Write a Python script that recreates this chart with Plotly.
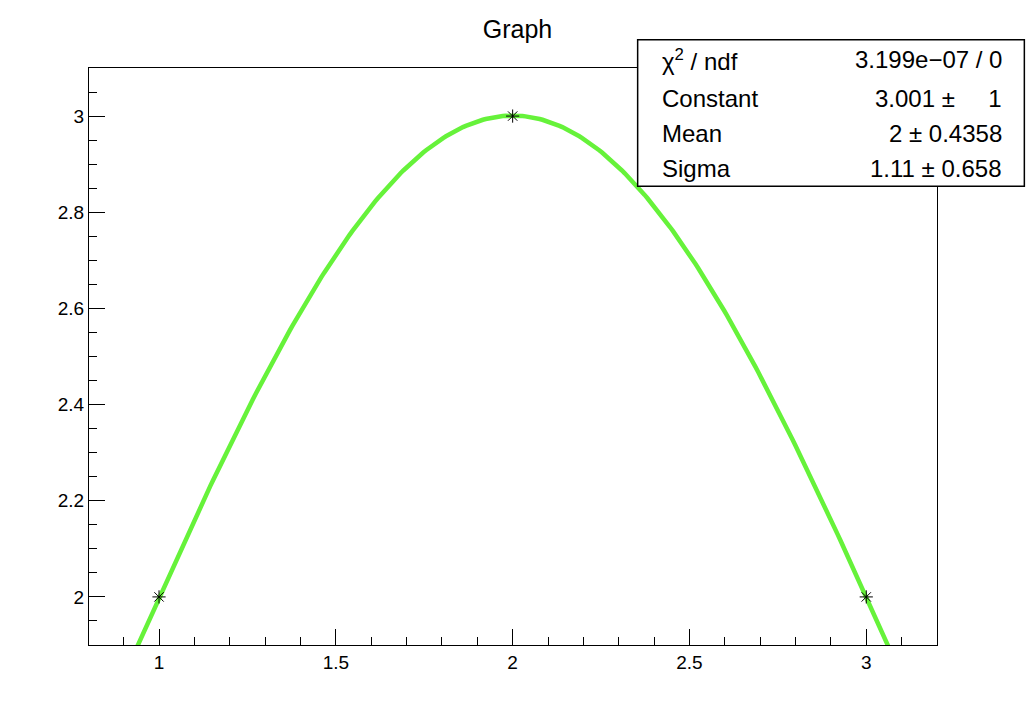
import numpy as np
import plotly.graph_objects as go

px_ = [1, 2, 3]
py_ = [2, 3, 2]
fit_const, fit_mean, fit_sigma = 3.001, 2.0, 1.11
stat_labels = ["χ<sup>2</sup> / ndf", "Constant", "Mean", "Sigma"]
stat_values = ["3.199e−07 / 0", "3.001 ±     1", "2 ± 0.4358", "1.11 ± 0.658"]

xf = np.linspace(0.8, 3.2, 300)
yf = fit_const * np.exp(-0.5 * ((xf - fit_mean) / fit_sigma) ** 2)

fig = go.Figure()
fig.add_trace(go.Scatter(x=xf, y=yf, mode="lines", line=dict(color="#66f23a", width=4.5), hoverinfo="skip"))
fig.add_trace(go.Scatter(x=px_, y=py_, mode="markers",
                         marker=dict(symbol="asterisk-open", size=11, color="black", line=dict(width=1, color="black"))))

font = dict(family="Liberation Sans, Arial", color="black")
axcommon = dict(showgrid=False, zeroline=False, showline=True, linecolor="black", mirror=True,
                ticks="inside", tickcolor="black", ticklen=16, tickfont=dict(size=19, **font))
fig.update_layout(
    width=1019, height=687, plot_bgcolor="white", paper_bgcolor="white", showlegend=False,
    margin=dict(l=81, r=90, t=60, b=50),
    title=dict(text="Graph", x=0.5, xanchor="center", y=0.982, font=dict(size=25, **font)),
    xaxis=dict(range=[0.802, 3.2], tickvals=[1, 1.5, 2, 2.5, 3], ticktext=["1", "1.5", "2", "2.5", "3"],
               minor=dict(dtick=0.1, ticks="inside", ticklen=8, tickcolor="black"), **axcommon),
    yaxis=dict(range=[1.9, 3.1], tickvals=[2, 2.2, 2.4, 2.6, 2.8, 3], ticktext=["2", "2.2", "2.4", "2.6", "2.8", "3"],
               minor=dict(dtick=0.05, ticks="inside", ticklen=8, tickcolor="black"), **axcommon),
)
fig.add_shape(type="rect", xref="paper", yref="paper", x0=0.647, x1=1.103, y0=0.795, y1=1.049,
              line=dict(color="black", width=1.5), fillcolor="white", layer="above")
rows_y = [645 - 60, 645 - 98, 645 - 133, 645 - 168]
for lab, val, ypx in zip(stat_labels, stat_values, rows_y):
    yp = ypx / 577
    fig.add_annotation(xref="paper", yref="paper", x=(660 - 89) / 848, y=yp, text=lab, showarrow=False,
                       xanchor="left", yanchor="middle", font=dict(size=24, **font))
    fig.add_annotation(xref="paper", yref="paper", x=(1004 - 89) / 848, y=yp, text=val, showarrow=False,
                       xanchor="right", yanchor="middle", font=dict(size=24, **font))
fig.write_html("out.html")
